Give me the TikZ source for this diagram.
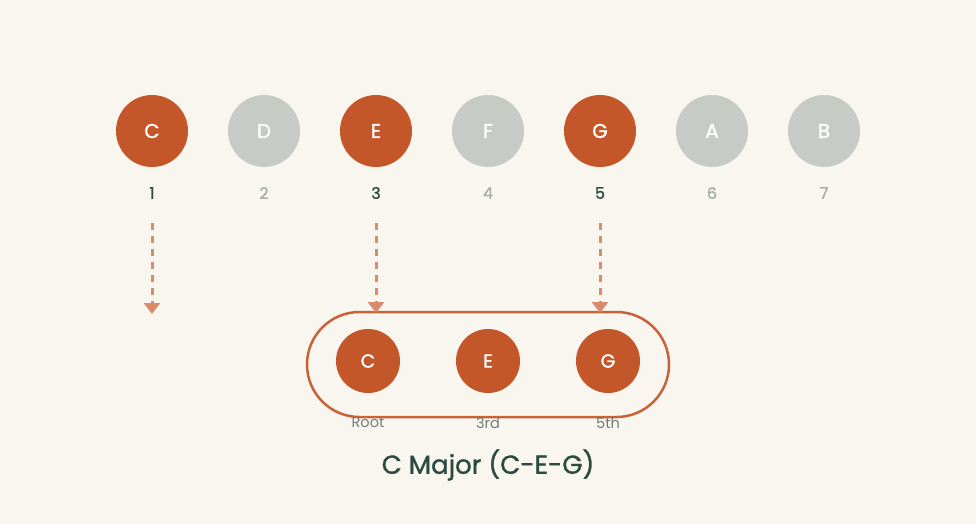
\documentclass[tikz,border=0pt]{standalone}
\usepackage{fontspec}
\setmainfont{Poppins}
\newfontfamily\semib{Poppins}[FakeBold=1.2]
\usetikzlibrary{arrows.meta,shapes.misc}
\definecolor{bg}{HTML}{F9F6F0}
\definecolor{rust}{HTML}{C4572A}
\definecolor{boxline}{HTML}{C8623A}
\definecolor{greyc}{HTML}{C6CBC5}
\definecolor{darkg}{HTML}{2B4A40}
\definecolor{lightg}{HTML}{A5AEA9}
\definecolor{labg}{HTML}{6B7F78}
\definecolor{arr}{HTML}{D98B6C}
\tikzset{
  x=1pt,y=-1pt,
  note/.style={circle,minimum size=72pt,inner sep=0pt,text=white,font=\semib\fontsize{20}{22}\selectfont},
  on/.style={note,fill=rust},
  off/.style={note,fill=greyc},
  chord/.style={circle,minimum size=64pt,inner sep=0pt,fill=rust,text=white,font=\semib\fontsize{19}{21}\selectfont},
  deg/.style={font=\semib\fontsize{16}{18}\selectfont,inner sep=0pt},
  degon/.style={deg,text=darkg},
  degoff/.style={deg,text=lightg},
  role/.style={font=\fontsize{14.5}{16}\selectfont,text=labg,inner sep=0pt},
  flow/.style={arr,line width=3pt,dash pattern=on 6.5pt off 6.5pt,-{Triangle[width=16pt,length=11pt]}},
}
\begin{document}
\begin{tikzpicture}
\fill[bg] (0,0) rectangle (976,524);
\useasboundingbox (0,0) rectangle (976,524);
% scale notes
\node[on]  (c) at (152,131) {C};
\node[off] (d) at (264,131) {D};
\node[on]  (e) at (376,131) {E};
\node[off] (f) at (488,131) {F};
\node[on]  (g) at (600,131) {G};
\node[off] (a) at (712,131) {A};
\node[off] (b) at (824,131) {B};
\node[degon]  (n1) at (152,193) {1};
\node[degoff] (n2) at (264,193) {2};
\node[degon]  (n3) at (376,193) {3};
\node[degoff] (n4) at (488,193) {4};
\node[degon]  (n5) at (600,193) {5};
\node[degoff] (n6) at (712,193) {6};
\node[degoff] (n7) at (824,193) {7};
% chord box
\node[rounded rectangle,draw=boxline,line width=2.5pt,minimum width=362pt,minimum height=105pt,inner sep=0pt] (box) at (488,364.5) {};
\node[chord] (cc) at (368,361) {C};
\node[chord] (ce) at (488,361) {E};
\node[chord] (cg) at (608,361) {G};
\node[role] (r1) at (368,423) {Root};
\node[role] (r3) at (488,423) {3rd};
\node[role] (r5) at (608,423) {5th};
\node[font=\semib\fontsize{26}{28}\selectfont,text=darkg,inner sep=0pt] (title) at (488,465) {C Major (C-E-G)};
% arrows
\coordinate (s1) at (152,223);
\coordinate (s3) at (376,223);
\coordinate (s5) at (600,223);
\coordinate (t1) at (152,314);
\coordinate (t3) at (376,313);
\coordinate (t5) at (600,313);
\draw[flow] (s1) -- (t1);
\draw[flow] (s3) -- (t3);
\draw[flow] (s5) -- (t5);
\end{tikzpicture}
\end{document}
